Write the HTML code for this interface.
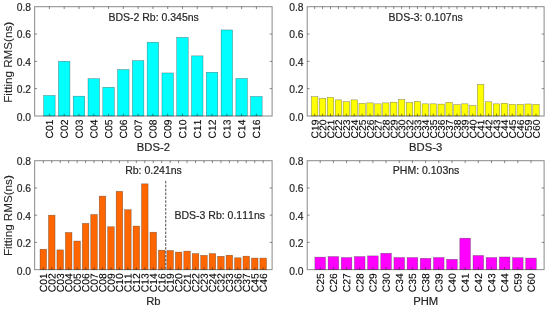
<!DOCTYPE html>
<html><head><meta charset="utf-8"><title>Fitting RMS</title>
<style>html,body{margin:0;padding:0;background:#fff;overflow:hidden}svg{display:block}text{font-family:"Liberation Sans", Arial, Helvetica, sans-serif;fill:#262626;stroke:#262626;stroke-width:0.2px;font-kerning:none}.xt{stroke:#000;stroke-width:0.1px;fill:#000}</style>
</head><body>
<svg width="550" height="309" viewBox="0 0 550 309">
<rect width="550" height="309" fill="#fff"/>
<rect x="43.66" y="95.51" width="11.48" height="20.49" fill="#00ffff" stroke="#303030" stroke-opacity="0.6" stroke-width="0.5"/>
<rect x="58.45" y="61.35" width="11.48" height="54.65" fill="#00ffff" stroke="#303030" stroke-opacity="0.6" stroke-width="0.5"/>
<rect x="73.23" y="96.19" width="11.48" height="19.81" fill="#00ffff" stroke="#303030" stroke-opacity="0.6" stroke-width="0.5"/>
<rect x="88.02" y="78.70" width="11.48" height="37.30" fill="#00ffff" stroke="#303030" stroke-opacity="0.6" stroke-width="0.5"/>
<rect x="102.80" y="87.31" width="11.48" height="28.69" fill="#00ffff" stroke="#303030" stroke-opacity="0.6" stroke-width="0.5"/>
<rect x="117.59" y="69.55" width="11.48" height="46.45" fill="#00ffff" stroke="#303030" stroke-opacity="0.6" stroke-width="0.5"/>
<rect x="132.38" y="60.67" width="11.48" height="55.33" fill="#00ffff" stroke="#303030" stroke-opacity="0.6" stroke-width="0.5"/>
<rect x="147.16" y="42.22" width="11.48" height="73.78" fill="#00ffff" stroke="#303030" stroke-opacity="0.6" stroke-width="0.5"/>
<rect x="161.95" y="72.96" width="11.48" height="43.04" fill="#00ffff" stroke="#303030" stroke-opacity="0.6" stroke-width="0.5"/>
<rect x="176.73" y="37.44" width="11.48" height="78.56" fill="#00ffff" stroke="#303030" stroke-opacity="0.6" stroke-width="0.5"/>
<rect x="191.52" y="55.88" width="11.48" height="60.12" fill="#00ffff" stroke="#303030" stroke-opacity="0.6" stroke-width="0.5"/>
<rect x="206.30" y="72.28" width="11.48" height="43.72" fill="#00ffff" stroke="#303030" stroke-opacity="0.6" stroke-width="0.5"/>
<rect x="221.09" y="29.93" width="11.48" height="86.07" fill="#00ffff" stroke="#303030" stroke-opacity="0.6" stroke-width="0.5"/>
<rect x="235.88" y="78.43" width="11.48" height="37.57" fill="#00ffff" stroke="#303030" stroke-opacity="0.6" stroke-width="0.5"/>
<rect x="250.66" y="96.46" width="11.48" height="19.54" fill="#00ffff" stroke="#303030" stroke-opacity="0.6" stroke-width="0.5"/>
<rect x="34.65" y="6.7" width="237.45000000000002" height="109.3" fill="none" stroke="rgba(38,38,38,0.54)" stroke-width="1"/>
<path d="M49.40 116.0v-2.4M49.40 6.7v2.4M64.19 116.0v-2.4M64.19 6.7v2.4M78.97 116.0v-2.4M78.97 6.7v2.4M93.76 116.0v-2.4M93.76 6.7v2.4M108.54 116.0v-2.4M108.54 6.7v2.4M123.33 116.0v-2.4M123.33 6.7v2.4M138.11 116.0v-2.4M138.11 6.7v2.4M152.90 116.0v-2.4M152.90 6.7v2.4M167.69 116.0v-2.4M167.69 6.7v2.4M182.47 116.0v-2.4M182.47 6.7v2.4M197.26 116.0v-2.4M197.26 6.7v2.4M212.04 116.0v-2.4M212.04 6.7v2.4M226.83 116.0v-2.4M226.83 6.7v2.4M241.61 116.0v-2.4M241.61 6.7v2.4M256.40 116.0v-2.4M256.40 6.7v2.4M34.65 88.67h2.4M272.1 88.67h-2.4M34.65 61.35h2.4M272.1 61.35h-2.4M34.65 34.02h2.4M272.1 34.02h-2.4" stroke="rgba(38,38,38,0.54)" stroke-width="1" fill="none"/>
<text x="31.00" y="120.85" font-size="10.3" text-anchor="end">0.0</text>
<text x="31.00" y="93.29" font-size="10.3" text-anchor="end">0.2</text>
<text x="31.00" y="65.74" font-size="10.3" text-anchor="end">0.4</text>
<text x="31.00" y="38.18" font-size="10.3" text-anchor="end">0.6</text>
<text x="31.00" y="10.63" font-size="10.3" text-anchor="end">0.8</text>
<text transform="translate(53.10 119.60) rotate(-89.9)" font-size="10.35" text-anchor="end" class="xt">C01</text>
<text transform="translate(67.89 119.60) rotate(-89.9)" font-size="10.35" text-anchor="end" class="xt">C02</text>
<text transform="translate(82.67 119.60) rotate(-89.9)" font-size="10.35" text-anchor="end" class="xt">C03</text>
<text transform="translate(97.46 119.60) rotate(-89.9)" font-size="10.35" text-anchor="end" class="xt">C04</text>
<text transform="translate(112.24 119.60) rotate(-89.9)" font-size="10.35" text-anchor="end" class="xt">C05</text>
<text transform="translate(127.03 119.60) rotate(-89.9)" font-size="10.35" text-anchor="end" class="xt">C06</text>
<text transform="translate(141.81 119.60) rotate(-89.9)" font-size="10.35" text-anchor="end" class="xt">C07</text>
<text transform="translate(156.60 119.60) rotate(-89.9)" font-size="10.35" text-anchor="end" class="xt">C08</text>
<text transform="translate(171.39 119.60) rotate(-89.9)" font-size="10.35" text-anchor="end" class="xt">C09</text>
<text transform="translate(186.17 119.60) rotate(-89.9)" font-size="10.35" text-anchor="end" class="xt">C10</text>
<text transform="translate(200.96 119.60) rotate(-89.9)" font-size="10.35" text-anchor="end" class="xt">C11</text>
<text transform="translate(215.74 119.60) rotate(-89.9)" font-size="10.35" text-anchor="end" class="xt">C12</text>
<text transform="translate(230.53 119.60) rotate(-89.9)" font-size="10.35" text-anchor="end" class="xt">C13</text>
<text transform="translate(245.31 119.60) rotate(-89.9)" font-size="10.35" text-anchor="end" class="xt">C14</text>
<text transform="translate(260.10 119.60) rotate(-89.9)" font-size="10.35" text-anchor="end" class="xt">C16</text>
<text x="153.38" y="151.10" font-size="11.25" text-anchor="middle">BDS-2</text>
<text transform="translate(12.45 62.35) rotate(-90)" font-size="11.65" text-anchor="middle" style="stroke-width:0.1px">Fitting RMS(ns)</text>
<text x="108.4" y="20.7" font-size="10.5">BDS-2 Rb: 0.345ns</text>
<rect x="311.49" y="96.74" width="6.42" height="19.26" fill="#ffff00" stroke="#303030" stroke-opacity="0.6" stroke-width="0.5"/>
<rect x="319.39" y="98.38" width="6.42" height="17.62" fill="#ffff00" stroke="#303030" stroke-opacity="0.6" stroke-width="0.5"/>
<rect x="327.30" y="97.42" width="6.42" height="18.58" fill="#ffff00" stroke="#303030" stroke-opacity="0.6" stroke-width="0.5"/>
<rect x="335.20" y="99.88" width="6.42" height="16.12" fill="#ffff00" stroke="#303030" stroke-opacity="0.6" stroke-width="0.5"/>
<rect x="343.10" y="101.65" width="6.42" height="14.35" fill="#ffff00" stroke="#303030" stroke-opacity="0.6" stroke-width="0.5"/>
<rect x="351.01" y="99.88" width="6.42" height="16.12" fill="#ffff00" stroke="#303030" stroke-opacity="0.6" stroke-width="0.5"/>
<rect x="358.91" y="103.43" width="6.42" height="12.57" fill="#ffff00" stroke="#303030" stroke-opacity="0.6" stroke-width="0.5"/>
<rect x="366.81" y="102.88" width="6.42" height="13.12" fill="#ffff00" stroke="#303030" stroke-opacity="0.6" stroke-width="0.5"/>
<rect x="374.72" y="103.84" width="6.42" height="12.16" fill="#ffff00" stroke="#303030" stroke-opacity="0.6" stroke-width="0.5"/>
<rect x="382.62" y="102.88" width="6.42" height="13.12" fill="#ffff00" stroke="#303030" stroke-opacity="0.6" stroke-width="0.5"/>
<rect x="390.52" y="102.20" width="6.42" height="13.80" fill="#ffff00" stroke="#303030" stroke-opacity="0.6" stroke-width="0.5"/>
<rect x="398.43" y="99.61" width="6.42" height="16.39" fill="#ffff00" stroke="#303030" stroke-opacity="0.6" stroke-width="0.5"/>
<rect x="406.33" y="102.61" width="6.42" height="13.39" fill="#ffff00" stroke="#303030" stroke-opacity="0.6" stroke-width="0.5"/>
<rect x="414.23" y="101.52" width="6.42" height="14.48" fill="#ffff00" stroke="#303030" stroke-opacity="0.6" stroke-width="0.5"/>
<rect x="422.14" y="103.84" width="6.42" height="12.16" fill="#ffff00" stroke="#303030" stroke-opacity="0.6" stroke-width="0.5"/>
<rect x="430.04" y="103.84" width="6.42" height="12.16" fill="#ffff00" stroke="#303030" stroke-opacity="0.6" stroke-width="0.5"/>
<rect x="437.95" y="104.11" width="6.42" height="11.89" fill="#ffff00" stroke="#303030" stroke-opacity="0.6" stroke-width="0.5"/>
<rect x="445.85" y="102.47" width="6.42" height="13.53" fill="#ffff00" stroke="#303030" stroke-opacity="0.6" stroke-width="0.5"/>
<rect x="453.75" y="104.66" width="6.42" height="11.34" fill="#ffff00" stroke="#303030" stroke-opacity="0.6" stroke-width="0.5"/>
<rect x="461.66" y="103.84" width="6.42" height="12.16" fill="#ffff00" stroke="#303030" stroke-opacity="0.6" stroke-width="0.5"/>
<rect x="469.56" y="105.62" width="6.42" height="10.38" fill="#ffff00" stroke="#303030" stroke-opacity="0.6" stroke-width="0.5"/>
<rect x="477.46" y="84.44" width="6.42" height="31.56" fill="#ffff00" stroke="#303030" stroke-opacity="0.6" stroke-width="0.5"/>
<rect x="485.37" y="101.79" width="6.42" height="14.21" fill="#ffff00" stroke="#303030" stroke-opacity="0.6" stroke-width="0.5"/>
<rect x="493.27" y="103.84" width="6.42" height="12.16" fill="#ffff00" stroke="#303030" stroke-opacity="0.6" stroke-width="0.5"/>
<rect x="501.17" y="103.29" width="6.42" height="12.71" fill="#ffff00" stroke="#303030" stroke-opacity="0.6" stroke-width="0.5"/>
<rect x="509.08" y="104.39" width="6.42" height="11.61" fill="#ffff00" stroke="#303030" stroke-opacity="0.6" stroke-width="0.5"/>
<rect x="516.98" y="104.39" width="6.42" height="11.61" fill="#ffff00" stroke="#303030" stroke-opacity="0.6" stroke-width="0.5"/>
<rect x="524.88" y="103.98" width="6.42" height="12.02" fill="#ffff00" stroke="#303030" stroke-opacity="0.6" stroke-width="0.5"/>
<rect x="532.79" y="104.39" width="6.42" height="11.61" fill="#ffff00" stroke="#303030" stroke-opacity="0.6" stroke-width="0.5"/>
<rect x="307.2" y="6.7" width="236.90000000000003" height="109.3" fill="none" stroke="rgba(38,38,38,0.54)" stroke-width="1"/>
<path d="M314.70 116.0v-2.4M314.70 6.7v2.4M322.60 116.0v-2.4M322.60 6.7v2.4M330.51 116.0v-2.4M330.51 6.7v2.4M338.41 116.0v-2.4M338.41 6.7v2.4M346.31 116.0v-2.4M346.31 6.7v2.4M354.22 116.0v-2.4M354.22 6.7v2.4M362.12 116.0v-2.4M362.12 6.7v2.4M370.03 116.0v-2.4M370.03 6.7v2.4M377.93 116.0v-2.4M377.93 6.7v2.4M385.83 116.0v-2.4M385.83 6.7v2.4M393.74 116.0v-2.4M393.74 6.7v2.4M401.64 116.0v-2.4M401.64 6.7v2.4M409.54 116.0v-2.4M409.54 6.7v2.4M417.45 116.0v-2.4M417.45 6.7v2.4M425.35 116.0v-2.4M425.35 6.7v2.4M433.25 116.0v-2.4M433.25 6.7v2.4M441.16 116.0v-2.4M441.16 6.7v2.4M449.06 116.0v-2.4M449.06 6.7v2.4M456.96 116.0v-2.4M456.96 6.7v2.4M464.87 116.0v-2.4M464.87 6.7v2.4M472.77 116.0v-2.4M472.77 6.7v2.4M480.68 116.0v-2.4M480.68 6.7v2.4M488.58 116.0v-2.4M488.58 6.7v2.4M496.48 116.0v-2.4M496.48 6.7v2.4M504.39 116.0v-2.4M504.39 6.7v2.4M512.29 116.0v-2.4M512.29 6.7v2.4M520.19 116.0v-2.4M520.19 6.7v2.4M528.10 116.0v-2.4M528.10 6.7v2.4M536.00 116.0v-2.4M536.00 6.7v2.4M307.2 88.67h2.4M544.1 88.67h-2.4M307.2 61.35h2.4M544.1 61.35h-2.4M307.2 34.02h2.4M544.1 34.02h-2.4" stroke="rgba(38,38,38,0.54)" stroke-width="1" fill="none"/>
<text x="303.55" y="120.85" font-size="10.3" text-anchor="end">0.0</text>
<text x="303.55" y="93.29" font-size="10.3" text-anchor="end">0.2</text>
<text x="303.55" y="65.74" font-size="10.3" text-anchor="end">0.4</text>
<text x="303.55" y="38.18" font-size="10.3" text-anchor="end">0.6</text>
<text x="303.55" y="10.63" font-size="10.3" text-anchor="end">0.8</text>
<text transform="translate(318.40 119.60) rotate(-89.9) scale(1,0.95)" font-size="10.35" text-anchor="end" class="xt">C19</text>
<text transform="translate(326.30 119.60) rotate(-89.9) scale(1,0.95)" font-size="10.35" text-anchor="end" class="xt">C20</text>
<text transform="translate(334.21 119.60) rotate(-89.9) scale(1,0.95)" font-size="10.35" text-anchor="end" class="xt">C21</text>
<text transform="translate(342.11 119.60) rotate(-89.9) scale(1,0.95)" font-size="10.35" text-anchor="end" class="xt">C22</text>
<text transform="translate(350.01 119.60) rotate(-89.9) scale(1,0.95)" font-size="10.35" text-anchor="end" class="xt">C23</text>
<text transform="translate(357.92 119.60) rotate(-89.9) scale(1,0.95)" font-size="10.35" text-anchor="end" class="xt">C24</text>
<text transform="translate(365.82 119.60) rotate(-89.9) scale(1,0.95)" font-size="10.35" text-anchor="end" class="xt">C25</text>
<text transform="translate(373.73 119.60) rotate(-89.9) scale(1,0.95)" font-size="10.35" text-anchor="end" class="xt">C26</text>
<text transform="translate(381.63 119.60) rotate(-89.9) scale(1,0.95)" font-size="10.35" text-anchor="end" class="xt">C27</text>
<text transform="translate(389.53 119.60) rotate(-89.9) scale(1,0.95)" font-size="10.35" text-anchor="end" class="xt">C28</text>
<text transform="translate(397.44 119.60) rotate(-89.9) scale(1,0.95)" font-size="10.35" text-anchor="end" class="xt">C29</text>
<text transform="translate(405.34 119.60) rotate(-89.9) scale(1,0.95)" font-size="10.35" text-anchor="end" class="xt">C30</text>
<text transform="translate(413.24 119.60) rotate(-89.9) scale(1,0.95)" font-size="10.35" text-anchor="end" class="xt">C32</text>
<text transform="translate(421.15 119.60) rotate(-89.9) scale(1,0.95)" font-size="10.35" text-anchor="end" class="xt">C33</text>
<text transform="translate(429.05 119.60) rotate(-89.9) scale(1,0.95)" font-size="10.35" text-anchor="end" class="xt">C34</text>
<text transform="translate(436.95 119.60) rotate(-89.9) scale(1,0.95)" font-size="10.35" text-anchor="end" class="xt">C35</text>
<text transform="translate(444.86 119.60) rotate(-89.9) scale(1,0.95)" font-size="10.35" text-anchor="end" class="xt">C36</text>
<text transform="translate(452.76 119.60) rotate(-89.9) scale(1,0.95)" font-size="10.35" text-anchor="end" class="xt">C37</text>
<text transform="translate(460.66 119.60) rotate(-89.9) scale(1,0.95)" font-size="10.35" text-anchor="end" class="xt">C38</text>
<text transform="translate(468.57 119.60) rotate(-89.9) scale(1,0.95)" font-size="10.35" text-anchor="end" class="xt">C39</text>
<text transform="translate(476.47 119.60) rotate(-89.9) scale(1,0.95)" font-size="10.35" text-anchor="end" class="xt">C40</text>
<text transform="translate(484.38 119.60) rotate(-89.9) scale(1,0.95)" font-size="10.35" text-anchor="end" class="xt">C41</text>
<text transform="translate(492.28 119.60) rotate(-89.9) scale(1,0.95)" font-size="10.35" text-anchor="end" class="xt">C42</text>
<text transform="translate(500.18 119.60) rotate(-89.9) scale(1,0.95)" font-size="10.35" text-anchor="end" class="xt">C43</text>
<text transform="translate(508.09 119.60) rotate(-89.9) scale(1,0.95)" font-size="10.35" text-anchor="end" class="xt">C44</text>
<text transform="translate(515.99 119.60) rotate(-89.9) scale(1,0.95)" font-size="10.35" text-anchor="end" class="xt">C45</text>
<text transform="translate(523.89 119.60) rotate(-89.9) scale(1,0.95)" font-size="10.35" text-anchor="end" class="xt">C46</text>
<text transform="translate(531.80 119.60) rotate(-89.9) scale(1,0.95)" font-size="10.35" text-anchor="end" class="xt">C59</text>
<text transform="translate(539.70 119.60) rotate(-89.9) scale(1,0.95)" font-size="10.35" text-anchor="end" class="xt">C60</text>
<text x="425.65" y="151.10" font-size="11.25" text-anchor="middle">BDS-3</text>
<text x="388.6" y="20.7" font-size="10.5">BDS-3: 0.107ns</text>
<rect x="40.02" y="249.22" width="6.57" height="20.43" fill="#ff6600" stroke="#303030" stroke-opacity="0.6" stroke-width="0.5"/>
<rect x="48.47" y="215.17" width="6.57" height="54.47" fill="#ff6600" stroke="#303030" stroke-opacity="0.6" stroke-width="0.5"/>
<rect x="56.93" y="249.90" width="6.57" height="19.75" fill="#ff6600" stroke="#303030" stroke-opacity="0.6" stroke-width="0.5"/>
<rect x="65.39" y="232.47" width="6.57" height="37.18" fill="#ff6600" stroke="#303030" stroke-opacity="0.6" stroke-width="0.5"/>
<rect x="73.85" y="241.05" width="6.57" height="28.60" fill="#ff6600" stroke="#303030" stroke-opacity="0.6" stroke-width="0.5"/>
<rect x="82.31" y="223.35" width="6.57" height="46.30" fill="#ff6600" stroke="#303030" stroke-opacity="0.6" stroke-width="0.5"/>
<rect x="90.76" y="214.49" width="6.57" height="55.16" fill="#ff6600" stroke="#303030" stroke-opacity="0.6" stroke-width="0.5"/>
<rect x="99.22" y="196.11" width="6.57" height="73.54" fill="#ff6600" stroke="#303030" stroke-opacity="0.6" stroke-width="0.5"/>
<rect x="107.68" y="226.75" width="6.57" height="42.90" fill="#ff6600" stroke="#303030" stroke-opacity="0.6" stroke-width="0.5"/>
<rect x="116.14" y="191.34" width="6.57" height="78.31" fill="#ff6600" stroke="#303030" stroke-opacity="0.6" stroke-width="0.5"/>
<rect x="124.59" y="209.73" width="6.57" height="59.92" fill="#ff6600" stroke="#303030" stroke-opacity="0.6" stroke-width="0.5"/>
<rect x="133.05" y="226.07" width="6.57" height="43.58" fill="#ff6600" stroke="#303030" stroke-opacity="0.6" stroke-width="0.5"/>
<rect x="141.51" y="183.85" width="6.57" height="85.80" fill="#ff6600" stroke="#303030" stroke-opacity="0.6" stroke-width="0.5"/>
<rect x="149.97" y="232.20" width="6.57" height="37.45" fill="#ff6600" stroke="#303030" stroke-opacity="0.6" stroke-width="0.5"/>
<rect x="158.42" y="250.18" width="6.57" height="19.47" fill="#ff6600" stroke="#303030" stroke-opacity="0.6" stroke-width="0.5"/>
<rect x="166.88" y="250.45" width="6.57" height="19.20" fill="#ff6600" stroke="#303030" stroke-opacity="0.6" stroke-width="0.5"/>
<rect x="175.34" y="252.08" width="6.57" height="17.57" fill="#ff6600" stroke="#303030" stroke-opacity="0.6" stroke-width="0.5"/>
<rect x="183.80" y="251.13" width="6.57" height="18.52" fill="#ff6600" stroke="#303030" stroke-opacity="0.6" stroke-width="0.5"/>
<rect x="192.26" y="253.58" width="6.57" height="16.07" fill="#ff6600" stroke="#303030" stroke-opacity="0.6" stroke-width="0.5"/>
<rect x="200.71" y="255.35" width="6.57" height="14.30" fill="#ff6600" stroke="#303030" stroke-opacity="0.6" stroke-width="0.5"/>
<rect x="209.17" y="253.58" width="6.57" height="16.07" fill="#ff6600" stroke="#303030" stroke-opacity="0.6" stroke-width="0.5"/>
<rect x="217.63" y="256.30" width="6.57" height="13.35" fill="#ff6600" stroke="#303030" stroke-opacity="0.6" stroke-width="0.5"/>
<rect x="226.09" y="255.21" width="6.57" height="14.44" fill="#ff6600" stroke="#303030" stroke-opacity="0.6" stroke-width="0.5"/>
<rect x="234.54" y="257.80" width="6.57" height="11.85" fill="#ff6600" stroke="#303030" stroke-opacity="0.6" stroke-width="0.5"/>
<rect x="243.00" y="256.17" width="6.57" height="13.48" fill="#ff6600" stroke="#303030" stroke-opacity="0.6" stroke-width="0.5"/>
<rect x="251.46" y="258.07" width="6.57" height="11.58" fill="#ff6600" stroke="#303030" stroke-opacity="0.6" stroke-width="0.5"/>
<rect x="259.92" y="258.07" width="6.57" height="11.58" fill="#ff6600" stroke="#303030" stroke-opacity="0.6" stroke-width="0.5"/>
<line x1="165.74" y1="180.86" x2="165.74" y2="269.65" stroke="#2a2a2a" stroke-width="0.85" stroke-dasharray="2.5,1.4"/>
<rect x="34.65" y="160.7" width="237.45000000000002" height="108.94999999999999" fill="none" stroke="rgba(38,38,38,0.54)" stroke-width="1"/>
<path d="M43.30 269.65v-2.4M43.30 160.7v2.4M51.76 269.65v-2.4M51.76 160.7v2.4M60.22 269.65v-2.4M60.22 160.7v2.4M68.67 269.65v-2.4M68.67 160.7v2.4M77.13 269.65v-2.4M77.13 160.7v2.4M85.59 269.65v-2.4M85.59 160.7v2.4M94.05 269.65v-2.4M94.05 160.7v2.4M102.50 269.65v-2.4M102.50 160.7v2.4M110.96 269.65v-2.4M110.96 160.7v2.4M119.42 269.65v-2.4M119.42 160.7v2.4M127.88 269.65v-2.4M127.88 160.7v2.4M136.33 269.65v-2.4M136.33 160.7v2.4M144.79 269.65v-2.4M144.79 160.7v2.4M153.25 269.65v-2.4M153.25 160.7v2.4M161.71 269.65v-2.4M161.71 160.7v2.4M170.17 269.65v-2.4M170.17 160.7v2.4M178.62 269.65v-2.4M178.62 160.7v2.4M187.08 269.65v-2.4M187.08 160.7v2.4M195.54 269.65v-2.4M195.54 160.7v2.4M204.00 269.65v-2.4M204.00 160.7v2.4M212.45 269.65v-2.4M212.45 160.7v2.4M220.91 269.65v-2.4M220.91 160.7v2.4M229.37 269.65v-2.4M229.37 160.7v2.4M237.83 269.65v-2.4M237.83 160.7v2.4M246.28 269.65v-2.4M246.28 160.7v2.4M254.74 269.65v-2.4M254.74 160.7v2.4M263.20 269.65v-2.4M263.20 160.7v2.4M34.65 242.41h2.4M272.1 242.41h-2.4M34.65 215.17h2.4M272.1 215.17h-2.4M34.65 187.94h2.4M272.1 187.94h-2.4" stroke="rgba(38,38,38,0.54)" stroke-width="1" fill="none"/>
<text x="31.00" y="274.50" font-size="10.3" text-anchor="end">0.0</text>
<text x="31.00" y="247.03" font-size="10.3" text-anchor="end">0.2</text>
<text x="31.00" y="219.56" font-size="10.3" text-anchor="end">0.4</text>
<text x="31.00" y="192.10" font-size="10.3" text-anchor="end">0.6</text>
<text x="31.00" y="164.63" font-size="10.3" text-anchor="end">0.8</text>
<text transform="translate(47.00 273.25) rotate(-89.9)" font-size="10.35" text-anchor="end" class="xt">C01</text>
<text transform="translate(55.46 273.25) rotate(-89.9)" font-size="10.35" text-anchor="end" class="xt">C02</text>
<text transform="translate(63.92 273.25) rotate(-89.9)" font-size="10.35" text-anchor="end" class="xt">C03</text>
<text transform="translate(72.37 273.25) rotate(-89.9)" font-size="10.35" text-anchor="end" class="xt">C04</text>
<text transform="translate(80.83 273.25) rotate(-89.9)" font-size="10.35" text-anchor="end" class="xt">C05</text>
<text transform="translate(89.29 273.25) rotate(-89.9)" font-size="10.35" text-anchor="end" class="xt">C06</text>
<text transform="translate(97.75 273.25) rotate(-89.9)" font-size="10.35" text-anchor="end" class="xt">C07</text>
<text transform="translate(106.20 273.25) rotate(-89.9)" font-size="10.35" text-anchor="end" class="xt">C08</text>
<text transform="translate(114.66 273.25) rotate(-89.9)" font-size="10.35" text-anchor="end" class="xt">C09</text>
<text transform="translate(123.12 273.25) rotate(-89.9)" font-size="10.35" text-anchor="end" class="xt">C10</text>
<text transform="translate(131.58 273.25) rotate(-89.9)" font-size="10.35" text-anchor="end" class="xt">C11</text>
<text transform="translate(140.03 273.25) rotate(-89.9)" font-size="10.35" text-anchor="end" class="xt">C12</text>
<text transform="translate(148.49 273.25) rotate(-89.9)" font-size="10.35" text-anchor="end" class="xt">C13</text>
<text transform="translate(156.95 273.25) rotate(-89.9)" font-size="10.35" text-anchor="end" class="xt">C14</text>
<text transform="translate(165.41 273.25) rotate(-89.9)" font-size="10.35" text-anchor="end" class="xt">C16</text>
<text transform="translate(173.87 273.25) rotate(-89.9)" font-size="10.35" text-anchor="end" class="xt">C19</text>
<text transform="translate(182.32 273.25) rotate(-89.9)" font-size="10.35" text-anchor="end" class="xt">C20</text>
<text transform="translate(190.78 273.25) rotate(-89.9)" font-size="10.35" text-anchor="end" class="xt">C21</text>
<text transform="translate(199.24 273.25) rotate(-89.9)" font-size="10.35" text-anchor="end" class="xt">C22</text>
<text transform="translate(207.70 273.25) rotate(-89.9)" font-size="10.35" text-anchor="end" class="xt">C23</text>
<text transform="translate(216.15 273.25) rotate(-89.9)" font-size="10.35" text-anchor="end" class="xt">C24</text>
<text transform="translate(224.61 273.25) rotate(-89.9)" font-size="10.35" text-anchor="end" class="xt">C32</text>
<text transform="translate(233.07 273.25) rotate(-89.9)" font-size="10.35" text-anchor="end" class="xt">C33</text>
<text transform="translate(241.53 273.25) rotate(-89.9)" font-size="10.35" text-anchor="end" class="xt">C36</text>
<text transform="translate(249.98 273.25) rotate(-89.9)" font-size="10.35" text-anchor="end" class="xt">C37</text>
<text transform="translate(258.44 273.25) rotate(-89.9)" font-size="10.35" text-anchor="end" class="xt">C45</text>
<text transform="translate(266.90 273.25) rotate(-89.9)" font-size="10.35" text-anchor="end" class="xt">C46</text>
<text x="153.38" y="304.75" font-size="11.25" text-anchor="middle">Rb</text>
<text transform="translate(12.45 215.67) rotate(-90)" font-size="11.65" text-anchor="middle" style="stroke-width:0.1px">Fitting RMS(ns)</text>
<text x="125.2" y="174.4" font-size="10.5">Rb: 0.241ns</text>
<text x="174.5" y="219.3" font-size="10.5">BDS-3 Rb: 0.111ns</text>
<rect x="314.90" y="257.12" width="10.59" height="12.53" fill="#ff00ff" stroke="#303030" stroke-opacity="0.6" stroke-width="0.5"/>
<rect x="328.08" y="256.58" width="10.59" height="13.07" fill="#ff00ff" stroke="#303030" stroke-opacity="0.6" stroke-width="0.5"/>
<rect x="341.25" y="257.53" width="10.59" height="12.12" fill="#ff00ff" stroke="#303030" stroke-opacity="0.6" stroke-width="0.5"/>
<rect x="354.43" y="256.58" width="10.59" height="13.07" fill="#ff00ff" stroke="#303030" stroke-opacity="0.6" stroke-width="0.5"/>
<rect x="367.60" y="255.90" width="10.59" height="13.75" fill="#ff00ff" stroke="#303030" stroke-opacity="0.6" stroke-width="0.5"/>
<rect x="380.78" y="253.31" width="10.59" height="16.34" fill="#ff00ff" stroke="#303030" stroke-opacity="0.6" stroke-width="0.5"/>
<rect x="393.95" y="257.53" width="10.59" height="12.12" fill="#ff00ff" stroke="#303030" stroke-opacity="0.6" stroke-width="0.5"/>
<rect x="407.13" y="257.53" width="10.59" height="12.12" fill="#ff00ff" stroke="#303030" stroke-opacity="0.6" stroke-width="0.5"/>
<rect x="420.30" y="258.35" width="10.59" height="11.30" fill="#ff00ff" stroke="#303030" stroke-opacity="0.6" stroke-width="0.5"/>
<rect x="433.48" y="257.53" width="10.59" height="12.12" fill="#ff00ff" stroke="#303030" stroke-opacity="0.6" stroke-width="0.5"/>
<rect x="446.65" y="259.30" width="10.59" height="10.35" fill="#ff00ff" stroke="#303030" stroke-opacity="0.6" stroke-width="0.5"/>
<rect x="459.83" y="238.19" width="10.59" height="31.46" fill="#ff00ff" stroke="#303030" stroke-opacity="0.6" stroke-width="0.5"/>
<rect x="473.00" y="255.49" width="10.59" height="14.16" fill="#ff00ff" stroke="#303030" stroke-opacity="0.6" stroke-width="0.5"/>
<rect x="486.18" y="257.53" width="10.59" height="12.12" fill="#ff00ff" stroke="#303030" stroke-opacity="0.6" stroke-width="0.5"/>
<rect x="499.35" y="256.98" width="10.59" height="12.67" fill="#ff00ff" stroke="#303030" stroke-opacity="0.6" stroke-width="0.5"/>
<rect x="512.53" y="257.67" width="10.59" height="11.98" fill="#ff00ff" stroke="#303030" stroke-opacity="0.6" stroke-width="0.5"/>
<rect x="525.71" y="258.07" width="10.59" height="11.58" fill="#ff00ff" stroke="#303030" stroke-opacity="0.6" stroke-width="0.5"/>
<rect x="307.2" y="160.7" width="236.90000000000003" height="108.94999999999999" fill="none" stroke="rgba(38,38,38,0.54)" stroke-width="1"/>
<path d="M320.20 269.65v-2.4M320.20 160.7v2.4M333.38 269.65v-2.4M333.38 160.7v2.4M346.55 269.65v-2.4M346.55 160.7v2.4M359.72 269.65v-2.4M359.72 160.7v2.4M372.90 269.65v-2.4M372.90 160.7v2.4M386.07 269.65v-2.4M386.07 160.7v2.4M399.25 269.65v-2.4M399.25 160.7v2.4M412.42 269.65v-2.4M412.42 160.7v2.4M425.60 269.65v-2.4M425.60 160.7v2.4M438.77 269.65v-2.4M438.77 160.7v2.4M451.95 269.65v-2.4M451.95 160.7v2.4M465.12 269.65v-2.4M465.12 160.7v2.4M478.30 269.65v-2.4M478.30 160.7v2.4M491.48 269.65v-2.4M491.48 160.7v2.4M504.65 269.65v-2.4M504.65 160.7v2.4M517.83 269.65v-2.4M517.83 160.7v2.4M531.00 269.65v-2.4M531.00 160.7v2.4M307.2 242.41h2.4M544.1 242.41h-2.4M307.2 215.17h2.4M544.1 215.17h-2.4M307.2 187.94h2.4M544.1 187.94h-2.4" stroke="rgba(38,38,38,0.54)" stroke-width="1" fill="none"/>
<text x="303.55" y="274.50" font-size="10.3" text-anchor="end">0.0</text>
<text x="303.55" y="247.03" font-size="10.3" text-anchor="end">0.2</text>
<text x="303.55" y="219.56" font-size="10.3" text-anchor="end">0.4</text>
<text x="303.55" y="192.10" font-size="10.3" text-anchor="end">0.6</text>
<text x="303.55" y="164.63" font-size="10.3" text-anchor="end">0.8</text>
<text transform="translate(323.90 273.25) rotate(-89.9)" font-size="10.35" text-anchor="end" class="xt">C25</text>
<text transform="translate(337.07 273.25) rotate(-89.9)" font-size="10.35" text-anchor="end" class="xt">C26</text>
<text transform="translate(350.25 273.25) rotate(-89.9)" font-size="10.35" text-anchor="end" class="xt">C27</text>
<text transform="translate(363.42 273.25) rotate(-89.9)" font-size="10.35" text-anchor="end" class="xt">C28</text>
<text transform="translate(376.60 273.25) rotate(-89.9)" font-size="10.35" text-anchor="end" class="xt">C29</text>
<text transform="translate(389.77 273.25) rotate(-89.9)" font-size="10.35" text-anchor="end" class="xt">C30</text>
<text transform="translate(402.95 273.25) rotate(-89.9)" font-size="10.35" text-anchor="end" class="xt">C34</text>
<text transform="translate(416.12 273.25) rotate(-89.9)" font-size="10.35" text-anchor="end" class="xt">C35</text>
<text transform="translate(429.30 273.25) rotate(-89.9)" font-size="10.35" text-anchor="end" class="xt">C38</text>
<text transform="translate(442.47 273.25) rotate(-89.9)" font-size="10.35" text-anchor="end" class="xt">C39</text>
<text transform="translate(455.65 273.25) rotate(-89.9)" font-size="10.35" text-anchor="end" class="xt">C40</text>
<text transform="translate(468.82 273.25) rotate(-89.9)" font-size="10.35" text-anchor="end" class="xt">C41</text>
<text transform="translate(482.00 273.25) rotate(-89.9)" font-size="10.35" text-anchor="end" class="xt">C42</text>
<text transform="translate(495.18 273.25) rotate(-89.9)" font-size="10.35" text-anchor="end" class="xt">C43</text>
<text transform="translate(508.35 273.25) rotate(-89.9)" font-size="10.35" text-anchor="end" class="xt">C44</text>
<text transform="translate(521.53 273.25) rotate(-89.9)" font-size="10.35" text-anchor="end" class="xt">C59</text>
<text transform="translate(534.70 273.25) rotate(-89.9)" font-size="10.35" text-anchor="end" class="xt">C60</text>
<text x="425.65" y="304.75" font-size="11.25" text-anchor="middle">PHM</text>
<text x="392.8" y="174.4" font-size="10.5">PHM: 0.103ns</text>
</svg>
</body></html>
